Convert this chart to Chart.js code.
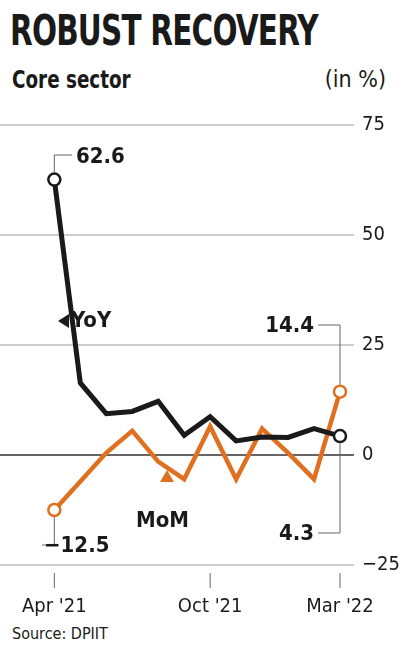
<!DOCTYPE html>
<html><head><meta charset="utf-8">
<script src="https://cdn.jsdelivr.net/npm/chart.js@4"></script>
<style>
body{margin:0;width:400px;height:652px;background:#fff;position:relative;overflow:hidden;font-family:"DejaVu Sans Condensed",sans-serif}
#t{position:absolute;left:10px;top:6px;font-size:42px;font-weight:bold;color:#1a1a1a;white-space:nowrap;transform:scaleX(0.78);transform-origin:left top;letter-spacing:-1px}
#s{position:absolute;left:12px;top:66px;font-size:24px;font-weight:bold;color:#1a1a1a;white-space:nowrap;transform:scaleX(0.85);transform-origin:left top}
#u{position:absolute;right:14px;top:66px;font-size:23px;color:#1a1a1a}
#src{position:absolute;left:12px;top:624px;font-size:16px;color:#1a1a1a}
canvas{position:absolute;left:0;top:0}
</style></head><body>
<div id="t">ROBUST RECOVERY</div>
<div id="s">Core sector</div>
<div id="u">(in %)</div>
<div id="src">Source: DPIIT</div>
<canvas id="c" width="400" height="652"></canvas>
<script>
const months=["Apr '21","May '21","Jun '21","Jul '21","Aug '21","Sep '21","Oct '21","Nov '21","Dec '21","Jan '22","Feb '22","Mar '22"];
const shownTicks=["Apr '21","Oct '21","Mar '22"];
const yoy=[62.6,16.4,9.4,9.9,12.2,4.5,8.7,3.2,4.1,4.0,6.0,4.3];
const mom=[-12.5,-6,0.5,5.5,-1.5,-5.5,6.5,-5.5,6,0.5,-5.5,14.4];
const yTicks=[75,50,25,0,-25];
const F='"DejaVu Sans Condensed",sans-serif';
const deco={id:'deco',
beforeDatasetsDraw(ch){const c=ch.ctx,y=ch.scales.y;c.save();
 yTicks.forEach(v=>{const p=y.getPixelForValue(v);c.strokeStyle=v===0?'#333':'#999';c.lineWidth=v===0?1.5:1;c.beginPath();c.moveTo(0,p);c.lineTo(354,p);c.stroke();});
 c.restore();},
afterDatasetsDraw(ch){const c=ch.ctx,x=ch.scales.x,y=ch.scales.y;c.save();
 const X=i=>x.getPixelForValue(i),Y=v=>y.getPixelForValue(v);
 c.strokeStyle='#666';c.lineWidth=1;
 const L=(pts)=>{c.beginPath();c.moveTo(...pts[0]);pts.slice(1).forEach(p=>c.lineTo(...p));c.stroke();};
 L([[X(0),Y(yoy[0])-7],[X(0),155],[72,155]]);
 L([[X(0),Y(mom[0])+7],[X(0),545],[42,545]]);
 L([[318,325],[X(11),325],[X(11),Y(mom[11])-7]]);
 L([[318,533],[X(11),533],[X(11),Y(yoy[11])+7]]);
 [0,6,11].forEach(i=>L([[X(i),573],[X(i),588]]));
 c.fillStyle='#1a1a1a';c.font='bold 22px '+F;c.textBaseline='middle';
 c.fillText('62.6',76,157);c.fillText('\u221212.5',44,546);
 c.textAlign='right';c.fillText('14.4',314,326);c.fillText('4.3',314,534);
 c.textAlign='left';c.fillText('YoY',71,321);
 c.beginPath();c.moveTo(58,321);c.lineTo(69,314);c.lineTo(69,328);c.fill();
 c.fillText('MoM',136,521);
 c.fillStyle='#e07020';c.beginPath();c.moveTo(167,470);c.lineTo(160,482);c.lineTo(174,482);c.fill();
 c.restore();}};
new Chart(document.getElementById('c'),{type:'line',
data:{labels:months,datasets:[
 {data:yoy,borderColor:'#1a1a1a',borderWidth:5,tension:0,pointRadius:yoy.map((v,i)=>i===0||i===11?6:0),pointBackgroundColor:'#fff',pointBorderColor:'#1a1a1a',pointBorderWidth:2.5},
 {data:mom,borderColor:'#e07020',borderWidth:4.5,tension:0,pointRadius:mom.map((v,i)=>i===0||i===11?6:0),pointBackgroundColor:'#fff',pointBorderColor:'#e07020',pointBorderWidth:2.5}]},
options:{responsive:false,animation:false,events:[],
 layout:{padding:{left:5,top:125,bottom:27,right:0}},
 plugins:{legend:{display:false},tooltip:{enabled:false}},
 scales:{
  x:{offset:false,grid:{display:false},border:{display:false},afterFit(s){s.height=60;},
   ticks:{autoSkip:false,maxRotation:0,padding:22,color:'#1a1a1a',font:{family:F,size:20},callback:(v,i)=>shownTicks.includes(months[i])?months[i]:''}},
  y:{position:'right',min:-25,max:75,grid:{display:false},border:{display:false},afterFit(s){s.width=60;},
   ticks:{stepSize:25,padding:14,color:'#1a1a1a',font:{family:F,size:20},callback:v=>v<0?'\u2212'+Math.abs(v):v}}}},
plugins:[deco]});
</script></body></html>
